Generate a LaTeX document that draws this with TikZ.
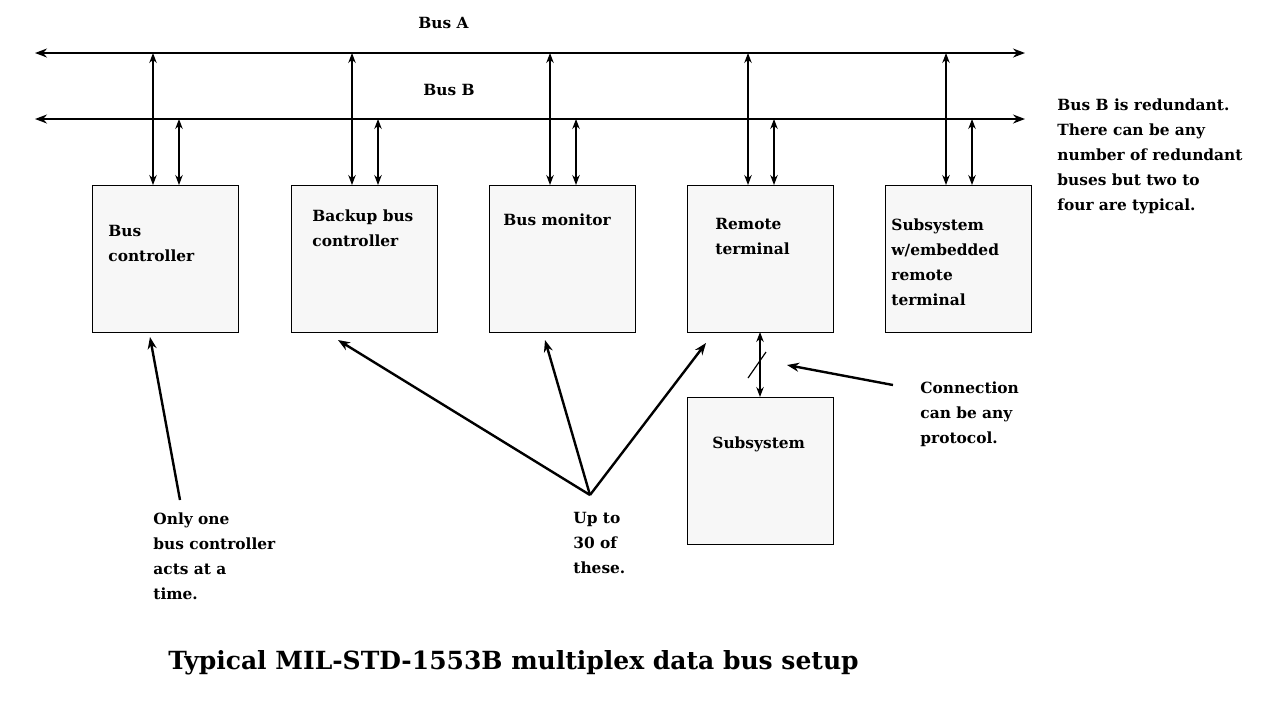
\documentclass[tikz,border=0pt]{standalone}
\usepackage{fontspec}
\setmainfont{DejaVu Serif}
\usetikzlibrary{arrows.meta}
\tikzset{
  unit/.style={draw, fill=gray!6, minimum width=73pt, minimum height=73.5pt, anchor=north west, inner sep=0pt},
  lbl/.style={anchor=north west, inner sep=0pt, align=left, font=\fontsize{7.7}{12.5}\selectfont\bfseries},
  bus/.style={thick, {Stealth[length=6pt]}-{Stealth[length=6pt]}},
  tap/.style={semithick, {Stealth[length=5pt]}-{Stealth[length=5pt]}},
  note/.style={very thick, -{Stealth[length=6pt]}}
}
\begin{document}
\begin{tikzpicture}[x=0.5pt,y=-0.5pt]
  \useasboundingbox (0,0) rectangle (1280,720);

  % Busse
  \coordinate (aw) at (35,53);  \coordinate (ae) at (1025,53);
  \coordinate (bw) at (35,119); \coordinate (be) at (1025,119);
  \draw[bus] (aw) -- (ae);
  \draw[bus] (bw) -- (be);
  \node[lbl] (la) at (418,17) {Bus A};
  \node[lbl] (lb) at (423,84) {Bus B};

  % Terminals
  \foreach \x/\name in {92/bc, 291/bbc, 489/bm, 687/rt, 885/ss} {
    \node[unit] (\name) at (\x,185) {};
    \coordinate (\name a) at (\x+61,53);
    \coordinate (\name b) at (\x+87,119);
    \draw[tap] (\name a) -- (\name a |- \name.north);
    \draw[tap] (\name b) -- (\name b |- \name.north);
  }
  \node[lbl] at (108,225) {Bus\\controller};
  \node[lbl] at (312,209) {Backup bus\\controller};
  \node[lbl] at (503,213) {Bus monitor};
  \node[lbl] at (715,218) {Remote\\terminal};
  \node[lbl] at (891,218) {Subsystem\\w/embedded\\remote\\terminal};

  % Subsystem am RT
  \node[unit] (sub) at (687,397) {};
  \node[lbl] at (712,436) {Subsystem};
  \coordinate (rtlink) at (760,332);
  \draw[tap] (rtlink) -- (rtlink |- sub.north);
  \draw[semithick] (748,378) -- (766,352);

  % Hinweise
  \node[lbl] (nprot) at (920,381) {Connection\\can be any\\protocol.};
  \coordinate (nprots) at (893,385);
  \draw[note] (nprots) -- (787,365);
  \node[lbl] (nred) at (1057,98) {Bus B is redundant.\\There can be any\\number of redundant\\buses but two to\\four are typical.};
  \node[lbl] (none) at (153,512) {Only one\\bus controller\\acts at a\\time.};
  \coordinate (nones) at (180,500);
  \draw[note] (nones) -- (150,337);
  \node[lbl] (nup) at (573,512) {Up to\\30 of\\these.};
  \coordinate (nups) at (590,495);
  \foreach \tx/\ty in {338/340, 545/340, 706/343}
    \draw[note] (nups) -- (\tx,\ty);

  \node[anchor=north west, inner sep=0pt, font=\fontsize{12.5}{15}\selectfont\bfseries] at (168,650) {Typical MIL-STD-1553B multiplex data bus setup};
\end{tikzpicture}
\end{document}
